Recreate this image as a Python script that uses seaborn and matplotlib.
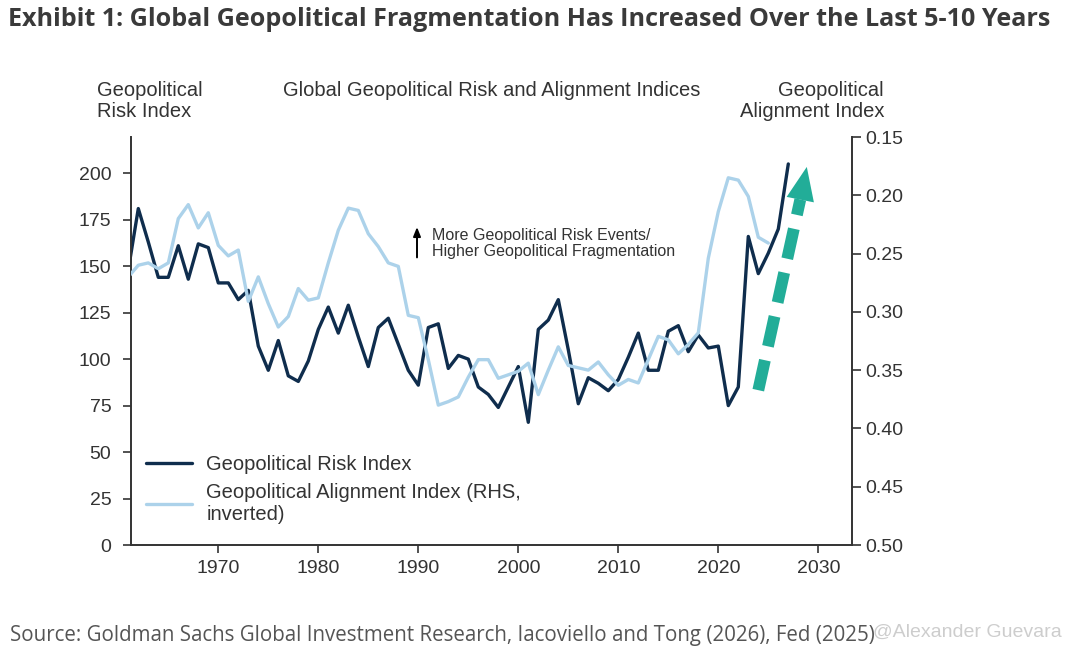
import numpy as np
import pandas as pd
import seaborn as sns
from matplotlib import pyplot as plt
from matplotlib.lines import Line2D

# 数据
risk_years = list(range(1961, 2028))
risk_values = [148, 181, 163, 144, 144, 161, 143, 162, 160, 141,
               141, 132, 137, 107, 94, 110, 91, 88, 99, 116,
               128, 114, 129, 112, 96, 117, 122, 108, 94, 86,
               117, 119, 95, 102, 100, 85, 81, 74, 85, 96,
               66, 116, 121, 132, 105, 76, 90, 87, 83, 89,
               101, 114, 94, 94, 115, 118, 104, 113, 106, 107,
               75, 85, 166, 146, 157, 170, 205]

align_years = list(range(1961, 2026))
align_values = [0.270, 0.260, 0.258, 0.263, 0.258, 0.220, 0.208, 0.228, 0.215, 0.243,
                0.252, 0.247, 0.291, 0.270, 0.293, 0.313, 0.304, 0.280, 0.290, 0.288,
                0.258, 0.230, 0.211, 0.213, 0.233, 0.244, 0.258, 0.261, 0.303, 0.305,
                0.341, 0.380, 0.377, 0.373, 0.356, 0.341, 0.341, 0.357, 0.354, 0.351,
                0.344, 0.371, 0.350, 0.330, 0.346, 0.348, 0.350, 0.343, 0.354, 0.363,
                0.358, 0.361, 0.341, 0.321, 0.324, 0.336, 0.328, 0.318, 0.254, 0.214,
                0.185, 0.187, 0.201, 0.236, 0.241]

left_ticks = [0, 25, 50, 75, 100, 125, 150, 175, 200]
right_ticks = [0.15, 0.20, 0.25, 0.30, 0.35, 0.40, 0.45, 0.50]
x_ticks = [1970, 1980, 1990, 2000, 2010, 2020, 2030]

risk_df = pd.DataFrame({'year': risk_years, 'value': risk_values})
align_df = pd.DataFrame({'year': align_years, 'value': align_values})

DARK = '#0f2d4d'
LIGHT = '#acd2ea'
TEAL = '#22ad98'
TXT = '#333333'

sns.set_theme(style='white')
plt.rcParams['font.family'] = ['Liberation Sans', 'DejaVu Sans']
plt.rcParams['axes.unicode_minus'] = False

W, H = 1069, 657
fig = plt.figure(figsize=(W / 100, H / 100), dpi=100)
ax = fig.add_axes([130.7 / W, 1 - 545 / H, (852.3 - 130.7) / W, (545 - 137) / H])
ax2 = ax.twinx()

sns.lineplot(data=risk_df, x='year', y='value', ax=ax, color=DARK, linewidth=2.4, legend=False)
sns.lineplot(data=align_df, x='year', y='value', ax=ax2, color=LIGHT, linewidth=2.4, legend=False)

ax.set_xlim(1961.24, 2033.4)
ax.set_ylim(0, 219.5)
ax.set_yticks(left_ticks)
ax.set_xticks(x_ticks)
ax2.set_ylim(0.50, 0.15)  # 右轴倒置
ax2.set_yticks(right_ticks)
ax2.set_yticklabels([f'{v:.2f}' for v in right_ticks])
ax.set_xlabel('')
ax.set_ylabel('')
ax2.set_ylabel('')

for a in (ax, ax2):
    a.spines['top'].set_visible(False)
    for s in a.spines.values():
        s.set_color(TXT)
        s.set_linewidth(1.4)
ax.spines['right'].set_visible(False)
ax2.spines['left'].set_visible(False)
ax2.spines['bottom'].set_visible(False)

ax.tick_params(axis='y', left=True, direction='out', length=6, width=1.2, color=TXT,
               labelsize=14, labelcolor=TXT, pad=8)
ax.tick_params(axis='x', bottom=True, direction='out', length=6, width=1.2, color=TXT,
               labelsize=14, labelcolor=TXT, pad=5)
ax2.tick_params(axis='y', right=True, direction='out', length=6.5, width=1.2, color=TXT,
                labelsize=14, labelcolor=TXT, pad=3)

# 图例
handles = [Line2D([], [], color=DARK, linewidth=2.4), Line2D([], [], color=LIGHT, linewidth=2.4)]
ax2.legend(handles, ['Geopolitical Risk Index', 'Geopolitical Alignment Index (RHS,\ninverted)'],
           loc='upper left', bbox_to_anchor=(0.01, 0.24), frameon=False, fontsize=14.5,
           handlelength=2.3, handletextpad=0.7, labelcolor=TXT, borderaxespad=0, labelspacing=0.45)

# 标注
ax.annotate('', xy=(1970 + (417 - 218.3) / 10, (545 - 224) / 1.86),
            xytext=(1970 + (417 - 218.3) / 10, (545 - 260) / 1.86),
            arrowprops=dict(arrowstyle='-|>,head_length=0.45,head_width=0.18', color='black', lw=1.4))
ax.text(1970 + (432 - 218.3) / 10, (545 - 243) / 1.86,
        'More Geopolitical Risk Events/\nHigher Geopolitical Fragmentation',
        fontsize=11.5, color=TXT, va='center', ha='left', linespacing=1.1)

# 绿色虚线箭头
start = (2024.0, 83.3)
base = (2028.2, 185.9)
tip = (2028.85, 203.4)
ax.plot([start[0], base[0]], [start[1], base[1]], color=TEAL, linewidth=8.5,
        linestyle=(0, (2.6, 1.2)), solid_capstyle='butt', dash_capstyle='butt', zorder=5)
ax.annotate('', xy=tip, xytext=base,
            arrowprops=dict(arrowstyle='-|>,head_length=1.2,head_width=0.5', color=TEAL,
                            lw=0, mutation_scale=20, shrinkA=0, shrinkB=0), zorder=5)

# 文字
fig.text(8 / W, 1 - 19 / H, 'Exhibit 1: Global Geopolitical Fragmentation Has Increased Over the Last 5-10 Years',
         fontsize=18.1, fontweight='bold', color='#3a3a3a', family=['Open Sans', 'DejaVu Sans'],
         va='center', ha='left')
fig.text(97 / W, 1 - 101 / H, 'Geopolitical\nRisk Index', fontsize=14.5, color=TXT, va='center', ha='left',
         linespacing=1.15)
fig.text(283 / W, 1 - 90 / H, 'Global Geopolitical Risk and Alignment Indices', fontsize=14.5, color=TXT,
         va='center', ha='left')
fig.text(884 / W, 1 - 101 / H, 'Geopolitical\nAlignment Index', fontsize=14.5, color=TXT, va='center',
         ha='right', multialignment='right', linespacing=1.15)
fig.text(10 / W, 1 - 636 / H,
         'Source: Goldman Sachs Global Investment Research, Iacoviello and Tong (2026), Fed (2025)',
         fontsize=14.8, color='#555555', family=['Open Sans', 'DejaVu Sans'], va='center', ha='left')
fig.text(1062 / W, 1 - 632 / H, '@Alexander Guevara', fontsize=14, color='#c8c8c8',
         va='center', ha='right', alpha=0.9)

fig.savefig('out.png', dpi=100)
